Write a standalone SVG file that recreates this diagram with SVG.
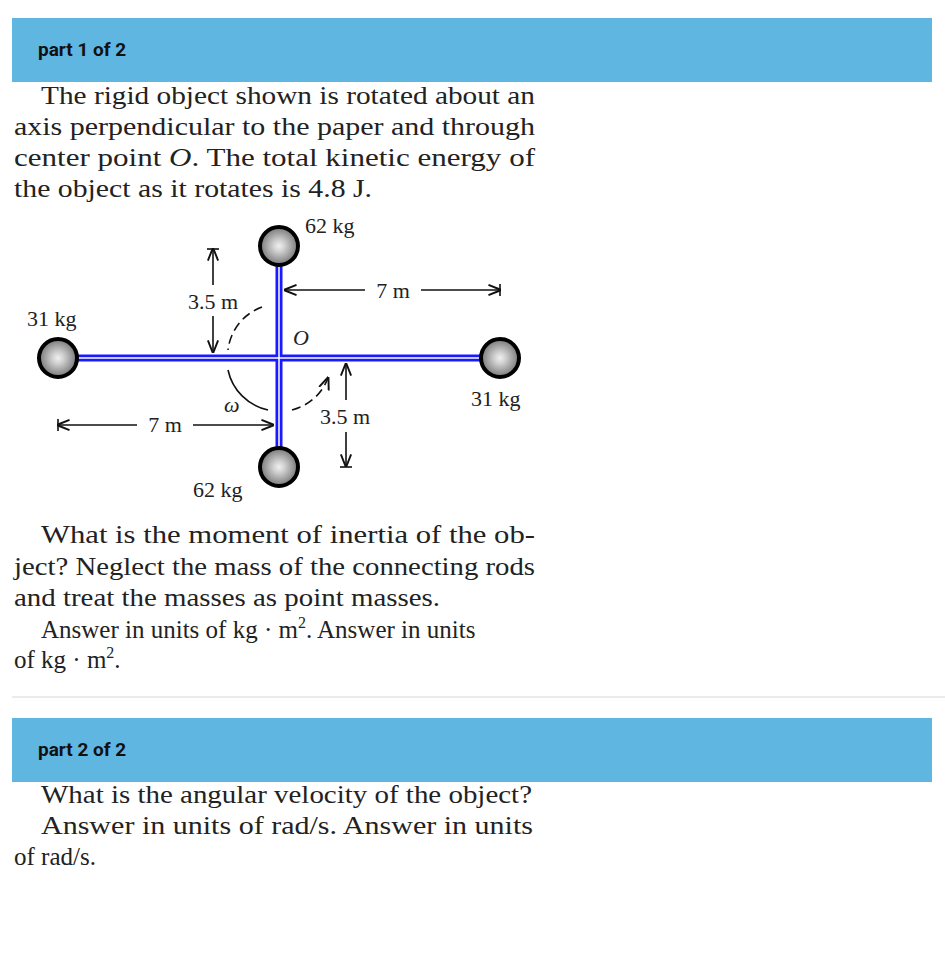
<svg xmlns="http://www.w3.org/2000/svg" width="945" height="953" viewBox="0 0 945 953">
<style>
.hdr{fill:#5eb6e1}
.ht{font-family:"Roboto","Liberation Sans",sans-serif;font-weight:bold;font-size:19px;fill:#111}
.t{font-family:"Liberation Serif",serif;font-size:25px;fill:#222}
.d{font-family:"Liberation Serif",serif;font-size:22px;fill:#222}
.dim{stroke:#111;stroke-width:1.6;fill:none}
.ball{fill:url(#g);stroke:#000;stroke-width:4}
</style>
<defs>
<radialGradient id="g"><stop offset="0" stop-color="#f0f0f0"/><stop offset="0.3" stop-color="#d0d0d0"/><stop offset="1" stop-color="#777"/></radialGradient>
<marker id="a" viewBox="0 0 10 10" refX="9" refY="5" markerWidth="8" markerHeight="8" orient="auto"><path d="M0,1 L10,5 L0,9" fill="none" stroke="#111" stroke-width="1.5"/></marker>
</defs>
<rect width="945" height="953" fill="#fff"/>
<rect class="hdr" x="12" y="18" width="920" height="64"/>
<text class="ht" x="38" y="56">part 1 of 2</text>
<text class="t" x="41" y="104" textLength="494" lengthAdjust="spacingAndGlyphs">The rigid object shown is rotated about an</text>
<text class="t" x="14" y="135" textLength="521" lengthAdjust="spacingAndGlyphs">axis perpendicular to the paper and through</text>
<text class="t" x="14" y="166" textLength="521" lengthAdjust="spacingAndGlyphs">center point <tspan font-style="italic">O</tspan>.  The total kinetic energy of</text>
<text class="t" x="14" y="197" textLength="358" lengthAdjust="spacingAndGlyphs">the object as it rotates is 4.8 J.</text>
<g id="rods">
<line x1="58" y1="358" x2="500" y2="358" stroke="#1a1aff" stroke-width="7"/>
<line x1="279" y1="246" x2="279" y2="467" stroke="#1a1aff" stroke-width="7"/>
<line x1="58" y1="358" x2="500" y2="358" stroke="#fff" stroke-width="1.5"/>
<line x1="279" y1="246" x2="279" y2="467" stroke="#fff" stroke-width="1.5"/>
</g>
<g id="balls">
<circle class="ball" cx="279" cy="246" r="19"/>
<circle class="ball" cx="58" cy="358" r="19"/>
<circle class="ball" cx="500" cy="358" r="19"/>
<circle class="ball" cx="279" cy="467" r="19"/>
</g>
<g id="connectors">
<line class="dim" x1="213" y1="285" x2="213" y2="249" marker-end="url(#a)"/>
<line class="dim" x1="207" y1="249" x2="219" y2="249"/>
<line class="dim" x1="213" y1="316" x2="213" y2="352" marker-end="url(#a)"/>
<line class="dim" x1="365" y1="290" x2="285" y2="290" marker-end="url(#a)"/>
<line class="dim" x1="421" y1="290" x2="500" y2="290" marker-end="url(#a)"/>
<line class="dim" x1="500" y1="284" x2="500" y2="296"/>
<line class="dim" x1="346" y1="400" x2="346" y2="364" marker-end="url(#a)"/>
<line class="dim" x1="346" y1="432" x2="346" y2="466" marker-end="url(#a)"/>
<line class="dim" x1="340" y1="467" x2="352" y2="467"/>
<line class="dim" x1="137" y1="425" x2="58" y2="425" marker-end="url(#a)"/>
<line class="dim" x1="58" y1="419" x2="58" y2="431"/>
<line class="dim" x1="193" y1="425" x2="273" y2="425" marker-end="url(#a)"/>
<path class="dim" d="M262,307 A52,52 0 0 0 228,350" stroke-dasharray="9,5"/>
<path class="dim" d="M228,370 A52,52 0 0 0 268,410"/>
<path class="dim" d="M292,410 A52,52 0 0 0 328,378" stroke-dasharray="9,5" marker-end="url(#a)"/>
</g>
<g id="labels">
<text class="d" x="305" y="233">62 kg</text>
<text class="d" x="27" y="326">31 kg</text>
<text class="d" x="471" y="406">31 kg</text>
<text class="d" x="193" y="497">62 kg</text>
<text class="d" x="213" y="309" text-anchor="middle">3.5 m</text>
<text class="d" x="393" y="298" text-anchor="middle">7 m</text>
<text class="d" x="345" y="424" text-anchor="middle">3.5 m</text>
<text class="d" x="165" y="432" text-anchor="middle">7 m</text>
<text class="d" x="293" y="345" font-style="italic">O</text>
<text class="d" x="224" y="412" font-style="italic" font-size="16">ω</text>
</g>
<text class="t" x="41" y="543" textLength="494" lengthAdjust="spacingAndGlyphs">What is the moment of inertia of the ob-</text>
<text class="t" x="14" y="575" textLength="521" lengthAdjust="spacingAndGlyphs">ject? Neglect the mass of the connecting rods</text>
<text class="t" x="14" y="606" textLength="426" lengthAdjust="spacingAndGlyphs">and treat the masses as point masses.</text>
<text class="t" x="41" y="638">Answer in units of  kg · m<tspan dy="-10" font-size="16">2</tspan><tspan dy="10">. Answer in units</tspan></text>
<text class="t" x="14" y="668">of  kg · m<tspan dy="-10" font-size="16">2</tspan><tspan dy="10">.</tspan></text>
<line x1="12" y1="697" x2="945" y2="697" stroke="#e4e4e4" stroke-width="1.5"/>
<rect class="hdr" x="12" y="718" width="920" height="64"/>
<text class="ht" x="38" y="756">part 2 of 2</text>
<text class="t" x="41" y="803" textLength="491" lengthAdjust="spacingAndGlyphs">What is the angular velocity of the object?</text>
<text class="t" x="41" y="834" textLength="492" lengthAdjust="spacingAndGlyphs">Answer in units of  rad/s. Answer in units</text>
<text class="t" x="14" y="865">of  rad/s.</text>
</svg>
